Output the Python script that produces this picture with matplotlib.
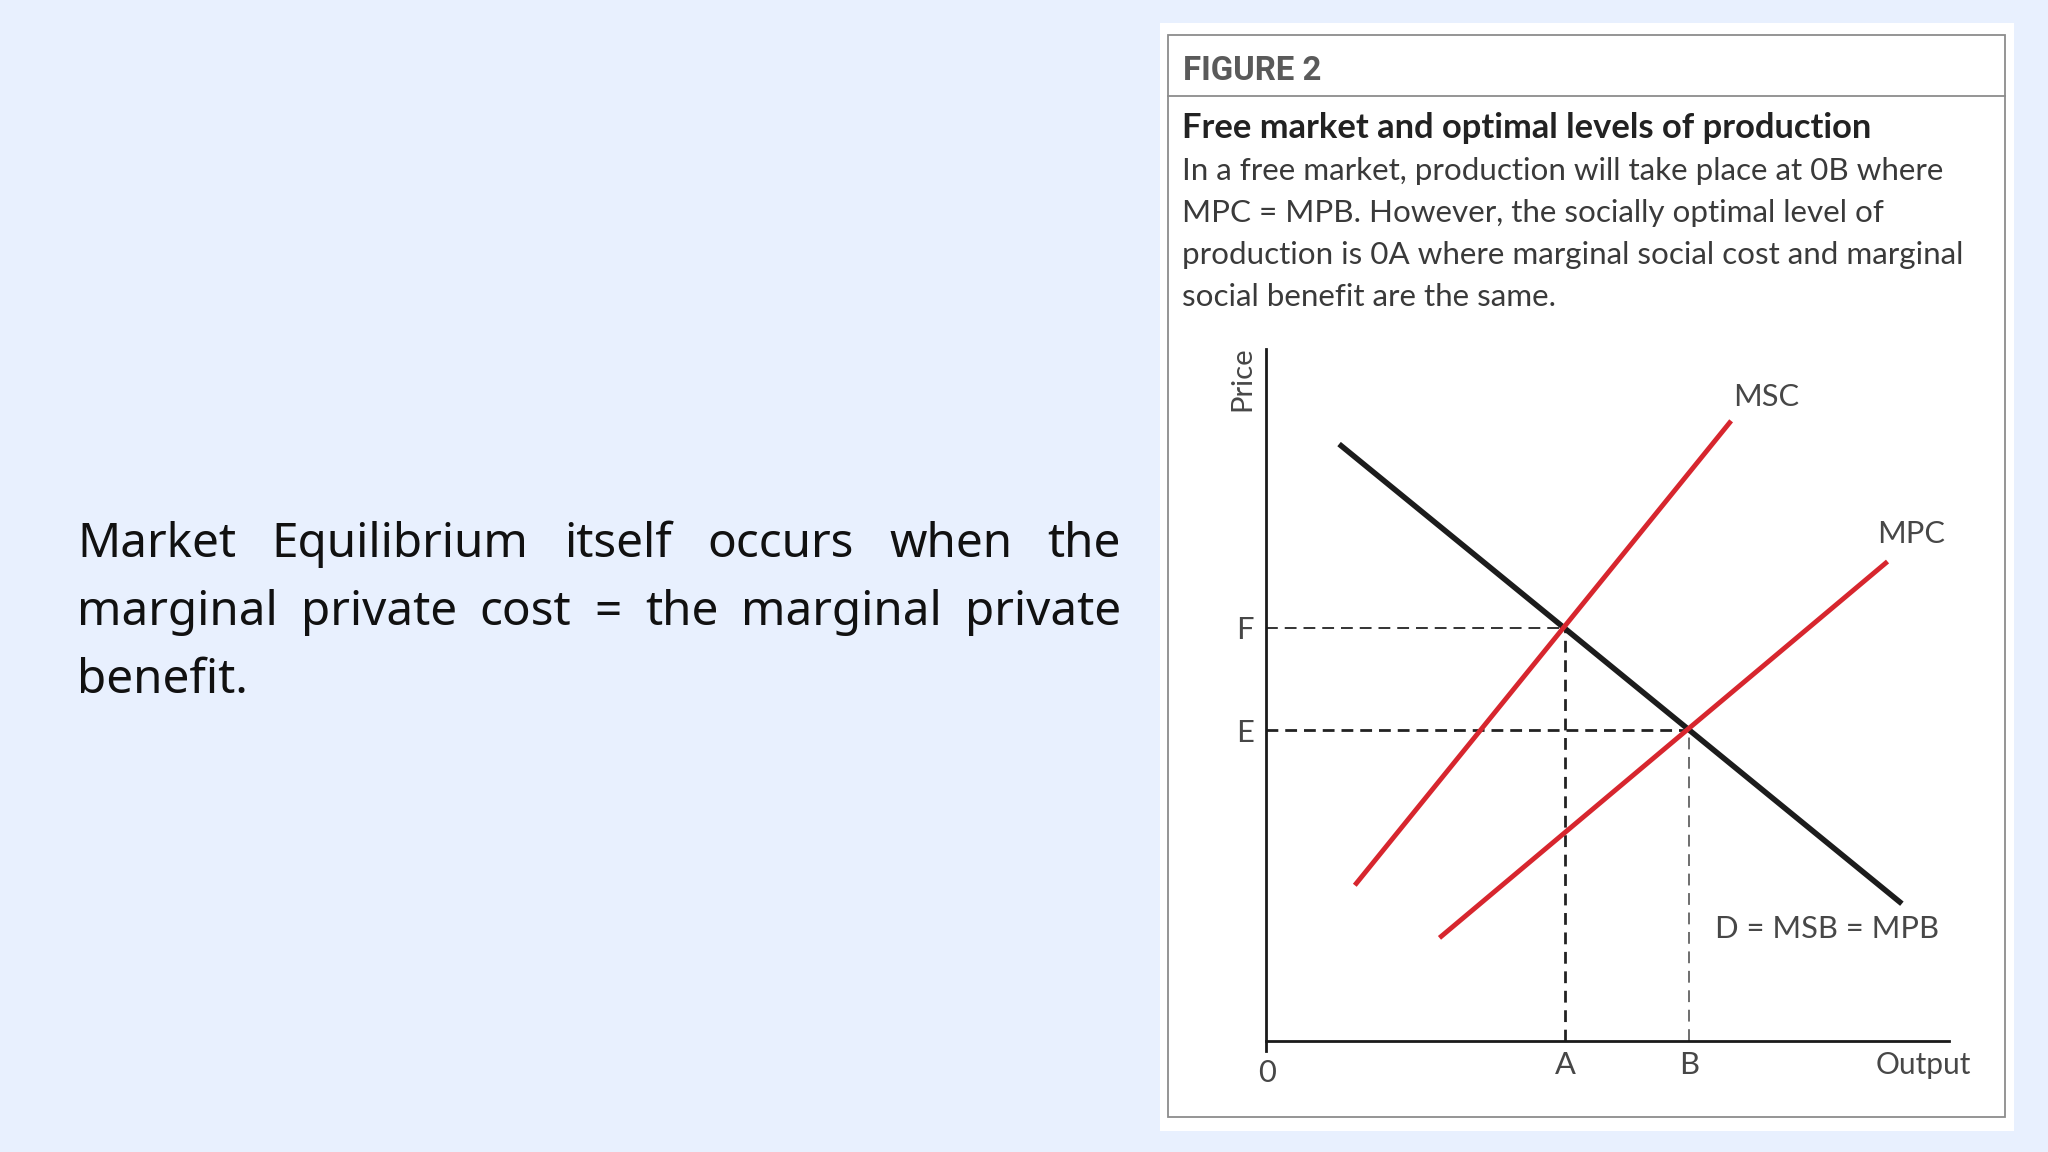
import matplotlib
matplotlib.use("Agg")
import matplotlib.pyplot as plt
from matplotlib import font_manager
from matplotlib.patches import Rectangle

# ---------- Data ----------
demand_x = [10.7, 93.1]
demand_y = [87.4, 20.1]
msc_x = [13.0, 68.1]
msc_y = [22.8, 90.8]
mpc_x = [25.4, 91.0]
mpc_y = [15.1, 70.2]

qty_A = 43.8
qty_B = 62.0
price_E = 45.5
price_F = 60.4

x_max = 100
y_max = 101.3

left_lines = ["Market Equilibrium itself occurs when the",
              "marginal private cost = the marginal private",
              "benefit."]
caption_title = "Free market and optimal levels of production"
caption_lines = ["In a free market, production will take place at 0B where",
                 "MPC = MPB. However, the socially optimal level of",
                 "production is 0A where marginal social cost and marginal",
                 "social benefit are the same."]

# ---------- Figure ----------
W, H = 2048, 1152
fig = plt.figure(figsize=(W / 100, H / 100), dpi=100)
fig.patch.set_facecolor("#E8F0FE")
renderer = fig.canvas.get_renderer()

names = {f.name for f in font_manager.fontManager.ttflist}
narrow = "Liberation Sans Narrow" if "Liberation Sans Narrow" in names else "Roboto"
body_font = "Lato" if "Lato" in names else "DejaVu Sans"

# full-figure axes in pixel units for the panel and text
bg = fig.add_axes([0, 0, 1, 1])
bg.set_xlim(0, W)
bg.set_ylim(H, 0)
bg.axis("off")


def fit_size(text, width_px, **kw):
    t = bg.text(0, 0, text, fontsize=20, **kw)
    w = t.get_window_extent(renderer).width
    t.remove()
    return 20 * width_px / w


def text_width(text, **kw):
    t = bg.text(0, 0, text, **kw)
    w = t.get_window_extent(renderer).width
    t.remove()
    return w


# ---------- Left paragraph (justified) ----------
para_kw = dict(family="Noto Sans", color="#111111")
para_size = 34.3
x_left, x_right = 77, 1121
baselines = [557, 625, 693]
for line, yb in zip(left_lines, baselines):
    words = line.split()
    if line is left_lines[-1]:
        bg.text(x_left, yb, line, fontsize=para_size, va="baseline", **para_kw)
        continue
    widths = [text_width(w, fontsize=para_size, **para_kw) for w in words]
    gap = (x_right - x_left - sum(widths)) / (len(words) - 1)
    x = x_left
    for w, wd in zip(words, widths):
        bg.text(x, yb, w, fontsize=para_size, va="baseline", **para_kw)
        x += wd + gap

# ---------- Figure panel ----------
bg.add_patch(Rectangle((1160, 23), 2014 - 1160, 1131 - 23, facecolor="white",
                       edgecolor="none", zorder=1))
bg.add_patch(Rectangle((1168, 35), 2005 - 1168, 1117 - 35, facecolor="none",
                       edgecolor="#8c8c8c", lw=1.3, zorder=2))
bg.plot([1168, 2005], [96, 96], color="#8c8c8c", lw=1.3, zorder=2)

fig_kw = dict(family=narrow, weight="bold", color="#5a5a5a")
bg.text(1183, 80, "FIGURE 2", fontsize=fit_size("FIGURE 2", 138, **fig_kw),
        va="baseline", zorder=3, **fig_kw)

title_kw = dict(family=body_font, weight="bold", color="#222222")
bg.text(1182, 138, caption_title, fontsize=fit_size(caption_title, 690, **title_kw),
        va="baseline", zorder=3, **title_kw)

cap_kw = dict(family=body_font, color="#3a3a3a")
cap_size = fit_size(caption_lines[2], 785, **cap_kw)
for line, yb in zip(caption_lines, [180, 222, 264, 306]):
    bg.text(1182, yb, line, fontsize=cap_size, va="baseline", zorder=3, **cap_kw)

# ---------- Diagram ----------
ox, oy, ppu = 1266, 1041, 6.83
xlim = (-14, 106)
ylim = (-12, 106)
ax = fig.add_axes([(ox + xlim[0] * ppu) / W,
                   (H - oy + ylim[0] * ppu) / H,
                   (xlim[1] - xlim[0]) * ppu / W,
                   (ylim[1] - ylim[0]) * ppu / H])
ax.set_xlim(*xlim)
ax.set_ylim(*ylim)
ax.patch.set_alpha(0)
for s in ["top", "right"]:
    ax.spines[s].set_visible(False)
ax.spines["left"].set_position(("data", 0))
ax.spines["bottom"].set_position(("data", 0))
ax.spines["left"].set_bounds(-1.5, y_max)
ax.spines["bottom"].set_bounds(0, x_max)
for s in ["left", "bottom"]:
    ax.spines[s].set_linewidth(2.0)
    ax.spines[s].set_color("#1a1a1a")
ax.set_xticks([])
ax.set_yticks([])

plt.rcParams["lines.scale_dashes"] = False
ax.plot([0, qty_A], [price_F, price_F], color="#333333", lw=1.4,
        linestyle=(0, (8.5, 5)), zorder=2)
ax.plot([0, qty_B], [price_E, price_E], color="#222222", lw=2.0,
        linestyle=(0, (8.5, 5)), zorder=2)
ax.plot([qty_A, qty_A], [0, price_F], color="#222222", lw=2.0,
        linestyle=(0, (8.5, 5.5)), zorder=2)
ax.plot([qty_B, qty_B], [0, price_E], color="#555555", lw=1.2,
        linestyle=(0, (8.5, 5.5)), zorder=2)

ax.plot(demand_x, demand_y, color="#1c1c1c", lw=4.0, solid_capstyle="butt", zorder=3)
ax.plot(msc_x, msc_y, color="#D7262E", lw=3.5, solid_capstyle="butt", zorder=4)
ax.plot(mpc_x, mpc_y, color="#D7262E", lw=3.5, solid_capstyle="butt", zorder=4)

lab_kw = dict(family=body_font, color="#474747")
lab_size = fit_size("D = MSB = MPB", 223, **lab_kw)
ax.text(68.4, 92.9, "MSC", fontsize=lab_size, va="baseline", **lab_kw)
ax.text(89.5, 72.9, "MPC", fontsize=lab_size, va="baseline", **lab_kw)
ax.text(65.7, 16.4, "D = MSB = MPB", fontsize=lab_size, va="center", **lab_kw)
ax.text(-3.1, price_F - 1.6, "F", fontsize=lab_size, ha="center", va="baseline", **lab_kw)
ax.text(-3.1, price_E - 1.7, "E", fontsize=lab_size, ha="center", va="baseline", **lab_kw)
ax.text(qty_A, -1.5, "A", fontsize=lab_size, ha="center", va="top", **lab_kw)
ax.text(qty_B, -1.5, "B", fontsize=lab_size, ha="center", va="top", **lab_kw)
ax.text(0.1, -2.6, "0", fontsize=lab_size, ha="center", va="top", **lab_kw)
ax.text(89.3, -1.5, "Output", fontsize=lab_size * 0.97, ha="left", va="top", **lab_kw)
ax.text(-3.4, 96.9, "Price", fontsize=lab_size * 0.95, rotation=90,
        ha="center", va="center", **lab_kw)

fig.savefig("out.png", dpi=100, facecolor=fig.get_facecolor())
